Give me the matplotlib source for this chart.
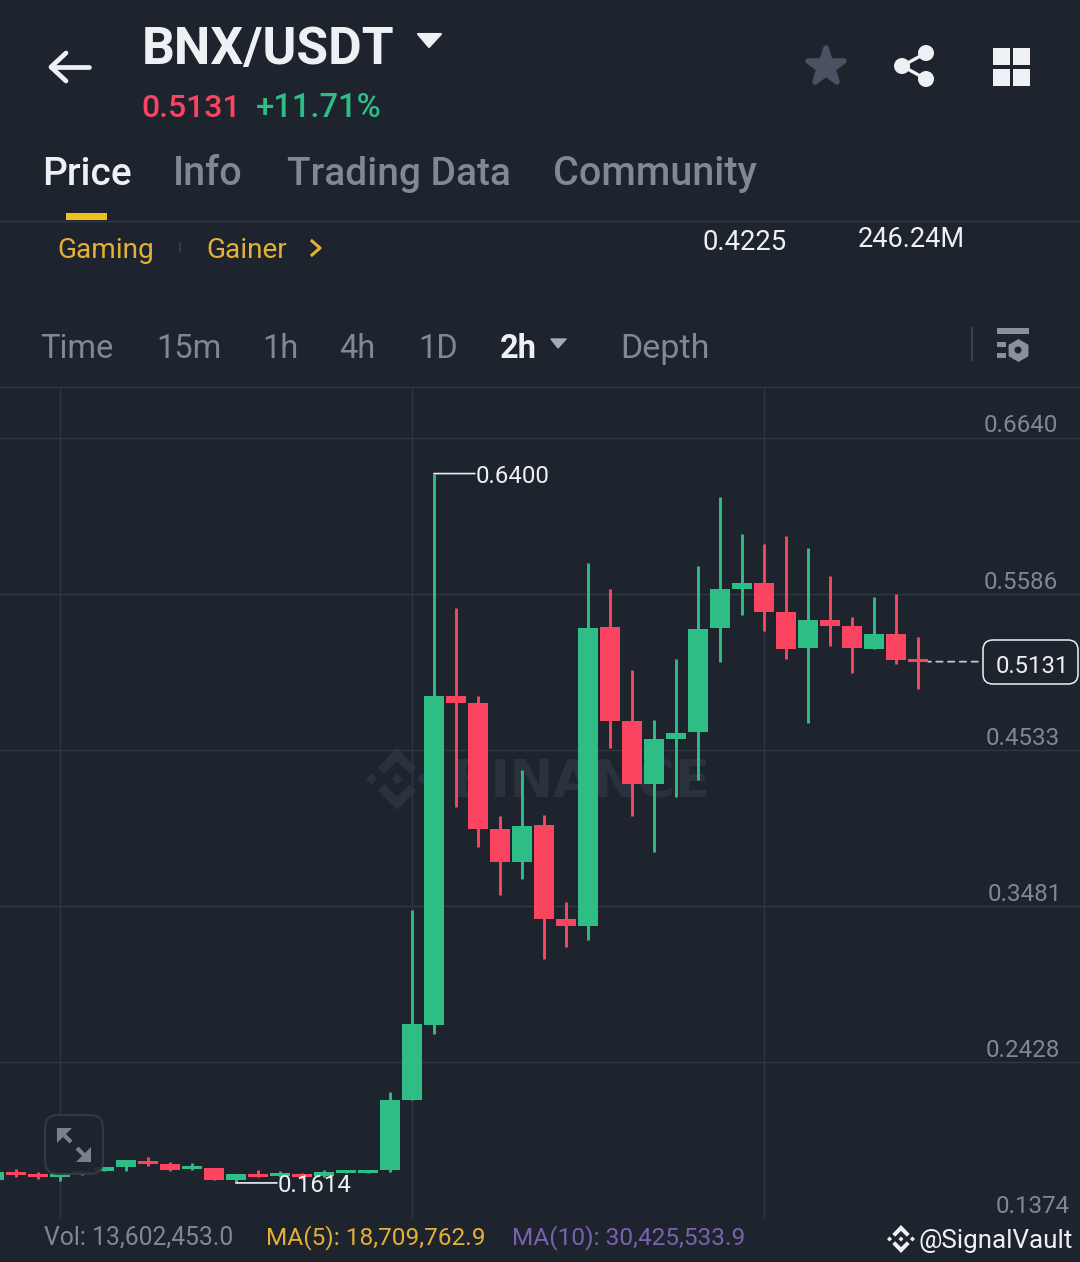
import matplotlib
matplotlib.use("Agg")
import matplotlib.pyplot as plt
from matplotlib.markers import MarkerStyle
from matplotlib.patches import Polygon, Circle, Rectangle, FancyBboxPatch

plt.rcParams['font.family'] = ['Roboto', 'DejaVu Sans']

# candles, oldest first
opens = [.1634, .1690, .1674, .1654, .1674, .1694, .1721, .1765, .1742, .1708, .1715, .1634,
         .1674, .1661, .1674, .1661, .1681, .1684, .1701, .2174, .2680, .4899, .4854, .4002,
         .3781, .4029, .3395, .3350, .5367, .4731, .4306, .4609, .4656, .5358, .5623, .5662,
         .5466, .5221, .5414, .5372, .5216, .5320, .5142]
highs = [.1694, .1708, .1688, .1674, .1701, .1721, .1769, .1789, .1755, .1748, .1715, .1674,
         .1701, .1694, .1681, .1701, .1701, .1701, .2227, .3455, .6400, .5493, .4899, .4090,
         .4400, .4096, .3509, .5799, .5621, .5075, .4737, .5149, .5776, .6242, .5992, .5925,
         .5979, .5900, .5709, .5432, .5569, .5587, .5299]
lows = [.1634, .1654, .1641, .1627, .1667, .1694, .1694, .1728, .1694, .1701, .1637, .1614,
        .1654, .1654, .1641, .1654, .1681, .1684, .1688, .2174, .2619, .4150, .3880, .3557,
        .3665, .3125, .3206, .3253, .4550, .4092, .3849, .4220, .4333, .5131, .5446, .5338,
        .5149, .4719, .5239, .5055, .5216, .5117, .4947]
closes = [.1688, .1670, .1654, .1674, .1694, .1721, .1769, .1745, .1701, .1728, .1637, .1674,
          .1654, .1681, .1654, .1688, .1701, .1701, .2174, .2686, .4899, .4854, .4002, .3781,
          .4022, .3395, .3347, .5360, .4731, .4306, .4609, .4650, .5351, .5621, .5664, .5466,
          .5216, .5412, .5372, .5223, .5320, .5142, .5131]

price_ticks = [.6640, .5586, .4533, .3481, .2428, .1374]
price_labels = ['0.6640', '0.5586', '0.4533', '0.3481', '0.2428', '0.1374']
label_right = [1058, 1058, 1060, 1062, 1060, 1070]
time_grid = [3, 19, 35]

BG = '#1e242e'
GRID = '#313743'
GREEN = '#2ebd85'
RED = '#fb4560'
GREY = '#808795'
WHITE = '#eef0f3'
YELLOW = '#e3b035'
PURPLE = '#7a62ad'
ICON = '#8b909d'

W, H = 1080, 1262
fig = plt.figure(figsize=(W / 100, H / 100), dpi=100, facecolor=BG)


def pixel_axes(z):
    a = fig.add_axes([0, 0, 1, 1], zorder=z)
    a.set_xlim(0, W)
    a.set_ylim(H, 0)
    a.axis('off')
    return a


under = pixel_axes(0)
over = pixel_axes(2)

# chart
top_px, bot_px = 388, 1218.5
ax = fig.add_axes([0, (H - bot_px) / H, 1, (bot_px - top_px) / H], zorder=1)
ax.patch.set_visible(False)
ax.set_xlim(6 / 22, 1086 / 22)
ax.set_ylim(.1374, .1374 + (bot_px - top_px) * .0006747)
for s in ax.spines.values():
    s.set_visible(False)
ax.set_xticks(time_grid)
ax.set_yticks(price_ticks)
ax.tick_params(length=0, labelleft=False, labelbottom=False)
ax.grid(True, color=GRID, lw=1.0)
ax.set_axisbelow(True)

for i, (o, h, l, c) in enumerate(zip(opens, highs, lows, closes)):
    col = GREEN if c >= o else RED
    ax.vlines(i, l, h, color=col, lw=2.1, zorder=3)
    ax.bar(i, max(abs(c - o), .0020), bottom=min(o, c), width=.87, color=col, zorder=4)

for p, lab, r in zip(price_ticks, price_labels, label_right):
    ax.annotate(lab, xy=(r / W, p), xycoords=ax.get_yaxis_transform(), xytext=(0, .5),
                textcoords='offset points', ha='right', va='bottom',
                color=GREY, fontsize=17.4)

# high / low markers
hi = highs.index(max(highs))
lo = lows.index(min(lows))
for idx, val, lab in [(hi, highs[hi], '0.6400'), (lo, lows[lo], '0.1614')]:
    ax.annotate('', xy=(idx, val), xytext=(29.5, 0), textcoords='offset points', zorder=6,
                arrowprops=dict(arrowstyle='-', color=WHITE, lw=1.2, shrinkA=0, shrinkB=0))
    ax.annotate(lab, xy=(idx, val), xytext=(30, 0), textcoords='offset points', va='center_baseline',
                ha='left', color=WHITE, fontsize=17.3, zorder=6)

# last price
n = len(closes) - 1
ax.annotate('', xy=(n + .45, closes[-1]), xytext=(44.72, closes[-1]), xycoords='data',
            arrowprops=dict(arrowstyle='-', color='#c2c6cc', lw=1.3, ls=(0, (3.5, 3)), shrinkA=0, shrinkB=0))
over.add_patch(FancyBboxPatch((983, 640), 95, 44, boxstyle='round,pad=0,rounding_size=10', fc=BG, ec=WHITE, lw=1.1))


def logo(a, cx, cy, s, col, z=1):
    # binance diamond, s is half width
    d = s * .18
    for ox, oy in [(-s + d, 0), (0, 0), (s - d, 0)]:
        a.add_patch(Polygon([(cx + ox - d, cy + oy), (cx + ox, cy + oy - d), (cx + ox + d, cy + oy), (cx + ox, cy + oy + d)],
                            fc=col, ec='none', zorder=z))
    for sgn in (-1, 1):
        a.add_patch(Polygon([(cx - s * .62, cy + sgn * s * .36), (cx, cy + sgn * s), (cx + s * .62, cy + sgn * s * .36),
                             (cx + s * .42, cy + sgn * s * .16), (cx, cy + sgn * s * .58), (cx - s * .42, cy + sgn * s * .16)],
                            fc=col, ec='none', zorder=z))


logo(under, 397, 779, 31, '#2c323d')
under.text(451, 797, 'BINANCE', color='#2c323d', fontsize=37.4, fontweight='bold', va='baseline', family='DejaVu Sans')

# header texts: x, baseline, text, size, colour, weight
texts = [
    (142, 64, 'BNX/USDT', 37.2, WHITE, 'bold'),
    (141, 117, '0.5131', 23, RED, 'medium'),
    (256, 117, '+11.71%', 23.6, GREEN, 'medium'),
    (42, 185, 'Price', 28, WHITE, 'medium'),
    (173, 185, 'Info', 28.5, GREY, 'medium'),
    (287, 185, 'Trading Data', 28, GREY, 'medium'),
    (553, 185, 'Community', 28.5, GREY, 'medium'),
    (57, 258, 'Gaming', 20.2, YELLOW, 'normal'),
    (206, 258, 'Gainer', 20.2, YELLOW, 'normal'),
    (703, 250, '0.4225', 19.8, WHITE, 'normal'),
    (858, 247, '246.24M', 19.5, WHITE, 'normal'),
    (40, 358, 'Time', 23.5, GREY, 'normal'),
    (156, 358, '15m', 23.5, GREY, 'normal'),
    (262, 358, '1h', 23.5, GREY, 'normal'),
    (339, 358, '4h', 23.5, GREY, 'normal'),
    (418, 358, '1D', 23.5, GREY, 'normal'),
    (500, 358, '2h', 23.5, WHITE, 'bold'),
    (620, 358, 'Depth', 24.5, GREY, 'normal'),
    (44, 1244, 'Vol: 13,602,453.0', 17.8, GREY, 'normal'),
    (266, 1244, 'MA(5): 18,709,762.9', 17.6, YELLOW, 'normal'),
    (512, 1244, 'MA(10): 30,425,533.9', 17.6, PURPLE, 'normal'),
    (918, 1248, '@SignalVault', 18.7, WHITE, 'normal'),
    (996, 673, '0.5131', 17.2, WHITE, 'normal'),
]
for x, y, t, size, col, weight in texts:
    over.text(x, y, t, fontsize=size, color=col, fontweight=weight, va='baseline', ha='left')

# lines and tab marker
over.plot([0, W], [221, 221], color=GRID, lw=1)
over.plot([0, W], [387, 387], color=GRID, lw=1)
over.add_patch(Rectangle((66, 213), 41, 7, fc='#f0c020', ec='none'))
over.plot([180, 180], [243, 252], color='#3a404b', lw=1.2)
over.plot([312, 320, 312], [241, 248, 255], color=YELLOW, lw=2.2)
over.plot([972, 972], [328, 360], color='#3a404b', lw=1.5)

# back arrow
over.plot([51, 89], [67, 67], color=WHITE, lw=3.4, solid_capstyle='round')
over.plot([66, 51, 66], [53, 67, 81], color=WHITE, lw=3.4, solid_capstyle='round', solid_joinstyle='round')
# carets
over.add_patch(Polygon([(418, 34), (441, 34), (429, 47)], fc=WHITE, ec=WHITE, lw=1.5, joinstyle='round'))
over.add_patch(Polygon([(551, 339), (566, 339), (558, 348)], fc='#a5aab3', ec='#a5aab3', lw=1, joinstyle='round'))
# star
over.plot(826, 67, marker=MarkerStyle('*', joinstyle='round'), ms=27, color='#4a5160', mec='#4a5160', mew=4)
# share
for cx, cy in [(926, 53), (902, 66), (926, 79)]:
    over.add_patch(Circle((cx, cy), 8, fc=WHITE, ec='none'))
over.plot([926, 902, 926], [53, 66, 79], color=WHITE, lw=2.4)
# grid icon
for gx in (993, 1013):
    for gy in (48, 69):
        over.add_patch(Rectangle((gx, gy), 17, 16.5, fc=WHITE, ec='none'))
# settings icon
for bx, by, bw, bh in [(997, 328, 32, 6), (997, 342, 9, 5), (997, 353, 9, 5)]:
    over.add_patch(Rectangle((bx, by), bw, bh, fc=ICON, ec='none'))
over.plot(1018, 350, marker='h', ms=16.5, color=ICON, mec='none')
over.add_patch(Circle((1018, 350), 3.5, fc=BG, ec='none', zorder=5))
# expand icon
over.add_patch(FancyBboxPatch((45, 1115), 58, 59, boxstyle='round,pad=0,rounding_size=13', fc=BG, ec='#363c47', lw=1.5, alpha=.9))
over.plot([58, 71], [1129, 1142], color='#7b808e', lw=3, solid_capstyle='butt')
over.plot([90, 77], [1161, 1148], color='#7b808e', lw=3, solid_capstyle='butt')
over.add_patch(Polygon([(57, 1128), (72, 1128), (57, 1143)], fc='#7b808e', ec='none'))
over.add_patch(Polygon([(91, 1162), (76, 1162), (91, 1147)], fc='#7b808e', ec='none'))
# signature logo
logo(over, 901, 1239, 14, WHITE, 3)

fig.savefig('out.png', dpi=100, facecolor=BG)
